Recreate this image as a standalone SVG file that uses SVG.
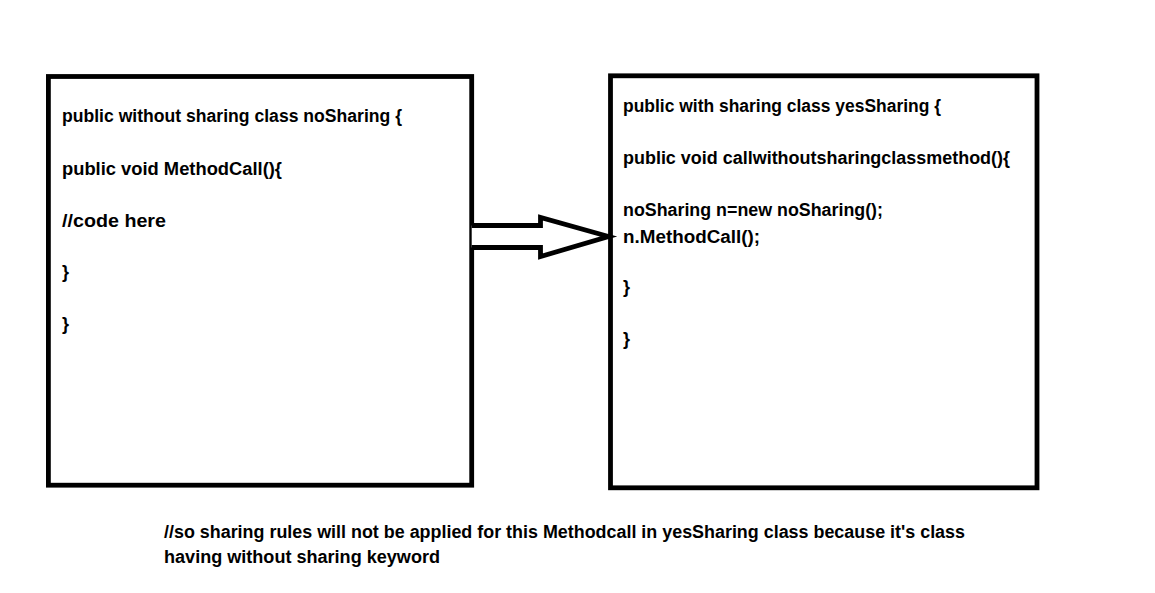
<svg xmlns="http://www.w3.org/2000/svg" width="1155" height="593" viewBox="0 0 1155 593">
<style>
.box{fill:#fff;stroke:#000;stroke-width:4.8}
.t{font-family:"Liberation Sans",Arial,sans-serif;font-weight:bold;font-size:18px;fill:#000}
.arrow{fill:#fff;stroke:#000;stroke-width:4.8;stroke-linejoin:miter}
</style>
<rect width="1155" height="593" fill="#fff"/>
<g id="noSharing">
<rect class="box" x="48.4" y="76.5" width="423.3" height="408.7"/>
<text class="t" x="62" y="122" textLength="340" lengthAdjust="spacingAndGlyphs">public without sharing class noSharing {</text>
<text class="t" x="62" y="175" textLength="220" lengthAdjust="spacingAndGlyphs">public void MethodCall(){</text>
<text class="t" x="62" y="227" textLength="104" lengthAdjust="spacingAndGlyphs">//code here</text>
<text class="t" x="62" y="278">}</text>
<text class="t" x="62" y="330">}</text>
</g>
<g id="yesSharing">
<rect class="box" x="610.5" y="75.8" width="426.5" height="412"/>
<text class="t" x="623" y="112" textLength="318" lengthAdjust="spacingAndGlyphs">public with sharing class yesSharing {</text>
<text class="t" x="623" y="164" textLength="387" lengthAdjust="spacingAndGlyphs">public void callwithoutsharingclassmethod(){</text>
<text class="t" x="623" y="216" textLength="260" lengthAdjust="spacingAndGlyphs">noSharing n=new noSharing();</text>
<text class="t" x="623" y="243" textLength="137" lengthAdjust="spacingAndGlyphs">n.MethodCall();</text>
<text class="t" x="623" y="293">}</text>
<text class="t" x="623" y="345">}</text>
</g>
<g id="connectors">
<polyline class="arrow" points="471.7,225.5 540.5,225.5 540.5,217.5 608.5,236.5 540.5,256.5 540.5,247.5 471.7,247.5"/>
</g>
<g id="note">
<text class="t" x="164" y="538" textLength="801" lengthAdjust="spacingAndGlyphs">//so sharing rules will not be applied for this Methodcall in yesSharing class because it's class</text>
<text class="t" x="164" y="563" textLength="276" lengthAdjust="spacingAndGlyphs">having without sharing keyword</text>
</g>
</svg>
